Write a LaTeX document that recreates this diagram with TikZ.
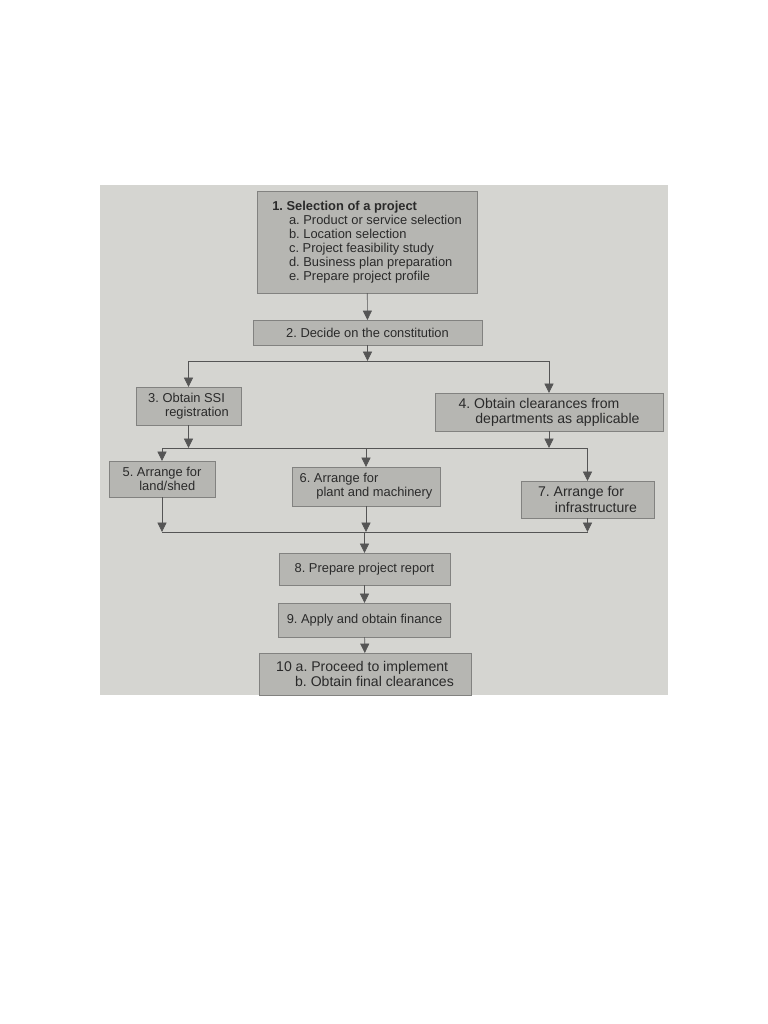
\documentclass[tikz,border=0pt]{standalone}
\usepackage{fontspec}
\setmainfont{Liberation Sans}
\usepackage{tikz}
\usetikzlibrary{positioning, arrows.meta}
\usepackage{xcolor}
\definecolor{photobg}{RGB}{213,213,209}
\definecolor{boxfill}{RGB}{182,182,178}
\definecolor{boxdraw}{RGB}{130,130,128}
\definecolor{inkline}{RGB}{85,85,85}
\definecolor{inktext}{RGB}{42,42,42}

\begin{document}
\frenchspacing
\begin{tikzpicture}[
                x=0.03cm, y=-0.03cm,
                stage/.style={rectangle, draw=boxdraw, line width=0.6pt, fill=boxfill, inner sep=0pt, outer sep=0pt, align=left, text=inktext, font=\fontsize{11}{12}\selectfont},
                bigstage/.style={stage, font=\fontsize{12}{13}\selectfont},
                arrow/.style={-{Triangle[width=0.27cm, length=0.28cm]}, line width=0.55pt, inkline},
                joinline/.style={line width=0.55pt, inkline}
            ]
            % page and photo
            \useasboundingbox (0,0) rectangle (768,1024);
            \fill[white] (0,0) rectangle (768,1024);
            \fill[photobg] (100,185) rectangle (668,695);

            % Selection and constitution
            \node[stage, minimum width=6.6cm, minimum height=3.06cm] (select) at (367,242)
                {\textbf{1. Selection of a project}\\
                 \hspace*{1.3em}a. Product or service selection\\
                 \hspace*{1.3em}b. Location selection\\
                 \hspace*{1.3em}c. Project feasibility study\\
                 \hspace*{1.3em}d. Business plan preparation\\
                 \hspace*{1.3em}e. Prepare project profile};
            \node[stage, minimum width=6.87cm, minimum height=0.75cm] (constit) at (367.5,332.5) {2. Decide on the constitution};

            % Registration and clearances
            \node[stage, minimum width=3.15cm, minimum height=1.14cm] (ssi) at (188.5,406) {3. Obtain SSI\\\hspace*{1.3em}registration};
            \node[bigstage, minimum width=6.84cm, minimum height=1.14cm] (clear) at (549,412) {4. Obtain clearances from\\\hspace*{1.2em}departments as applicable};

            % Arrangements
            \node[stage, minimum width=3.18cm, minimum height=1.08cm] (land) at (162,479) {5. Arrange for\\\hspace*{1.3em}land/shed};
            \node[stage, minimum width=4.44cm, minimum height=1.17cm] (plant) at (366,486.5) {6. Arrange for\\\hspace*{1.3em}plant and machinery};
            \node[bigstage, minimum width=3.99cm, minimum height=1.11cm] (infra) at (587.5,499.5) {7. Arrange for\\\hspace*{1.2em}infrastructure};

            % Report, finance, implementation
            \node[stage, minimum width=5.13cm, minimum height=0.96cm] (report) at (364.5,569) {8. Prepare project report};
            \node[stage, minimum width=5.16cm, minimum height=1.02cm] (finance) at (364.5,620) {9. Apply and obtain finance};
            \node[bigstage, minimum width=6.36cm, minimum height=1.26cm] (implement) at (365,674) {10 a. Proceed to implement\\\hspace*{1.35em}b. Obtain final clearances};

            % Junctions
            \coordinate (split) at (367.5,361);
            \coordinate (merge) at (366,448);
            \coordinate (gather) at (364.5,532);

            % Arrows
            \draw[arrow] (select) -- (constit);
            \draw[arrow] (constit) -- (split);
            \draw[joinline] (ssi.north |- split) -- (clear.north |- split);
            \draw[arrow] (ssi.north |- split) -- (ssi.north);
            \draw[arrow] (clear.north |- split) -- (clear.north);

            \draw[arrow] (ssi.south) -- (ssi.south |- merge);
            \draw[arrow] (clear.south) -- (clear.south |- merge);
            \draw[joinline] (land.north |- merge) -- (infra.north |- merge);
            \draw[arrow] (land.north |- merge) -- (land.north);
            \draw[arrow] (plant.north |- merge) -- (plant.north);
            \draw[arrow] (infra.north |- merge) -- (infra.north);

            \draw[arrow] (land.south) -- (land.south |- gather);
            \draw[arrow] (plant.south) -- (plant.south |- gather);
            \draw[arrow] (infra.south) -- (infra.south |- gather);
            \draw[joinline] (land.south |- gather) -- (infra.south |- gather);
            \draw[arrow] (gather) -- (report);

            \draw[arrow] (report) -- (finance);
            \draw[arrow] (finance) -- (implement);
        \end{tikzpicture}
\end{document}
